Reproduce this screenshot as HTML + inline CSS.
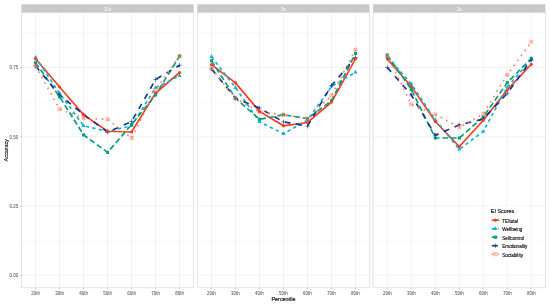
<!DOCTYPE html>
<html><head><meta charset="utf-8"><title>EI Scores accuracy by percentile</title>
<style>html,body{margin:0;padding:0;background:#fff}svg{display:block}</style></head>
<body>
<svg width="550" height="305" viewBox="0 0 550 305" font-family="Liberation Sans, Arial, sans-serif">
<rect width="550" height="305" fill="#fff"/>
<defs><filter id="soft" x="0" y="0" width="100%" height="100%" filterUnits="userSpaceOnUse"><feGaussianBlur stdDeviation="0.35"/></filter></defs>
<g filter="url(#soft)">
<rect x="21.4" y="4.3" width="172.20" height="8.30" fill="#C9C9C9"/>
<text x="107.50" y="11.0" font-size="4.6" fill="#fff" text-anchor="middle">10s</text>
<line x1="21.4" x2="193.6" y1="240.67" y2="240.67" stroke="#F1F1F1" stroke-width="0.45"/>
<line x1="21.4" x2="193.6" y1="171.40" y2="171.40" stroke="#F1F1F1" stroke-width="0.45"/>
<line x1="21.4" x2="193.6" y1="102.13" y2="102.13" stroke="#F1F1F1" stroke-width="0.45"/>
<line x1="21.4" x2="193.6" y1="32.87" y2="32.87" stroke="#F1F1F1" stroke-width="0.45"/>
<line x1="21.4" x2="193.6" y1="275.30" y2="275.30" stroke="#EAEAEA" stroke-width="0.6"/>
<line x1="21.4" x2="193.6" y1="206.03" y2="206.03" stroke="#EAEAEA" stroke-width="0.6"/>
<line x1="21.4" x2="193.6" y1="136.77" y2="136.77" stroke="#EAEAEA" stroke-width="0.6"/>
<line x1="21.4" x2="193.6" y1="67.50" y2="67.50" stroke="#EAEAEA" stroke-width="0.6"/>
<line x1="35.60" x2="35.60" y1="12.6" y2="287.8" stroke="#EAEAEA" stroke-width="0.6"/>
<line x1="59.60" x2="59.60" y1="12.6" y2="287.8" stroke="#EAEAEA" stroke-width="0.6"/>
<line x1="83.60" x2="83.60" y1="12.6" y2="287.8" stroke="#EAEAEA" stroke-width="0.6"/>
<line x1="107.60" x2="107.60" y1="12.6" y2="287.8" stroke="#EAEAEA" stroke-width="0.6"/>
<line x1="131.60" x2="131.60" y1="12.6" y2="287.8" stroke="#EAEAEA" stroke-width="0.6"/>
<line x1="155.60" x2="155.60" y1="12.6" y2="287.8" stroke="#EAEAEA" stroke-width="0.6"/>
<line x1="179.60" x2="179.60" y1="12.6" y2="287.8" stroke="#EAEAEA" stroke-width="0.6"/>
<polyline points="35.60,58.80 59.60,87.00 83.60,114.90 107.60,131.20 131.60,132.00 155.60,93.00 179.60,72.50" fill="none" stroke="#FB3B1E" stroke-width="1.65"/>
<polyline points="35.60,57.40 59.60,93.30 83.60,125.80 107.60,131.40 131.60,125.80 155.60,87.70 179.60,75.80" fill="none" stroke="#10B2D8" stroke-width="1.65" stroke-dasharray="3.4 3.2"/>
<polyline points="35.60,62.70 59.60,96.90 83.60,134.90 107.60,152.40 131.60,124.50 155.60,94.90 179.60,56.10" fill="none" stroke="#00A078" stroke-width="1.65" stroke-dasharray="5.6 3.0"/>
<polyline points="35.60,66.00 59.60,94.90 83.60,114.50 107.60,132.20 131.60,121.50 155.60,79.50 179.60,65.30" fill="none" stroke="#17358C" stroke-width="1.65" stroke-dasharray="5.8 5.8"/>
<polyline points="35.60,66.10 59.60,109.00 83.60,118.30 107.60,119.30 131.60,138.20 155.60,90.00 179.60,56.10" fill="none" stroke="#FF7F5E" stroke-width="1.65" stroke-dasharray="1.6 4.6"/>
<path d="M35.60 54.95L37.73 58.62L33.47 58.62Z" fill="#10B2D8"/>
<path d="M59.60 90.85L61.73 94.52L57.47 94.52Z" fill="#10B2D8"/>
<path d="M83.60 123.35L85.73 127.02L81.47 127.02Z" fill="#10B2D8"/>
<path d="M107.60 128.95L109.73 132.62L105.47 132.62Z" fill="#10B2D8"/>
<path d="M131.60 123.35L133.73 127.02L129.47 127.02Z" fill="#10B2D8"/>
<path d="M155.60 85.25L157.73 88.92L153.47 88.92Z" fill="#10B2D8"/>
<path d="M179.60 73.35L181.73 77.02L177.47 77.02Z" fill="#10B2D8"/>
<rect x="34.05" y="61.15" width="3.1" height="3.1" fill="#00A078"/>
<rect x="58.05" y="95.35" width="3.1" height="3.1" fill="#00A078"/>
<rect x="82.05" y="133.35" width="3.1" height="3.1" fill="#00A078"/>
<rect x="106.05" y="150.85" width="3.1" height="3.1" fill="#00A078"/>
<rect x="130.05" y="122.95" width="3.1" height="3.1" fill="#00A078"/>
<rect x="154.05" y="93.35" width="3.1" height="3.1" fill="#00A078"/>
<rect x="178.05" y="54.55" width="3.1" height="3.1" fill="#00A078"/>
<path d="M33.40 66.00H37.80M35.60 63.80V68.20" stroke="#17358C" stroke-width="0.65" fill="none"/>
<path d="M57.40 94.90H61.80M59.60 92.70V97.10" stroke="#17358C" stroke-width="0.65" fill="none"/>
<path d="M81.40 114.50H85.80M83.60 112.30V116.70" stroke="#17358C" stroke-width="0.65" fill="none"/>
<path d="M105.40 132.20H109.80M107.60 130.00V134.40" stroke="#17358C" stroke-width="0.65" fill="none"/>
<path d="M129.40 121.50H133.80M131.60 119.30V123.70" stroke="#17358C" stroke-width="0.65" fill="none"/>
<path d="M153.40 79.50H157.80M155.60 77.30V81.70" stroke="#17358C" stroke-width="0.65" fill="none"/>
<path d="M177.40 65.30H181.80M179.60 63.10V67.50" stroke="#17358C" stroke-width="0.65" fill="none"/>
<path d="M34.05 64.55h3.1v3.1h-3.1zM34.05 64.55l3.1 3.1M34.05 67.65l3.1 -3.1" stroke="#FF7F5E" stroke-width="0.5" fill="none"/>
<path d="M58.05 107.45h3.1v3.1h-3.1zM58.05 107.45l3.1 3.1M58.05 110.55l3.1 -3.1" stroke="#FF7F5E" stroke-width="0.5" fill="none"/>
<path d="M82.05 116.75h3.1v3.1h-3.1zM82.05 116.75l3.1 3.1M82.05 119.85l3.1 -3.1" stroke="#FF7F5E" stroke-width="0.5" fill="none"/>
<path d="M106.05 117.75h3.1v3.1h-3.1zM106.05 117.75l3.1 3.1M106.05 120.85l3.1 -3.1" stroke="#FF7F5E" stroke-width="0.5" fill="none"/>
<path d="M130.05 136.65h3.1v3.1h-3.1zM130.05 136.65l3.1 3.1M130.05 139.75l3.1 -3.1" stroke="#FF7F5E" stroke-width="0.5" fill="none"/>
<path d="M154.05 88.45h3.1v3.1h-3.1zM154.05 88.45l3.1 3.1M154.05 91.55l3.1 -3.1" stroke="#FF7F5E" stroke-width="0.5" fill="none"/>
<path d="M178.05 54.55h3.1v3.1h-3.1zM178.05 54.55l3.1 3.1M178.05 57.65l3.1 -3.1" stroke="#FF7F5E" stroke-width="0.5" fill="none"/>
<circle cx="35.60" cy="58.80" r="1.6" fill="#FB3B1E"/>
<circle cx="59.60" cy="87.00" r="1.6" fill="#FB3B1E"/>
<circle cx="83.60" cy="114.90" r="1.6" fill="#FB3B1E"/>
<circle cx="107.60" cy="131.20" r="1.6" fill="#FB3B1E"/>
<circle cx="131.60" cy="132.00" r="1.6" fill="#FB3B1E"/>
<circle cx="155.60" cy="93.00" r="1.6" fill="#FB3B1E"/>
<circle cx="179.60" cy="72.50" r="1.6" fill="#FB3B1E"/>
<rect x="21.4" y="12.6" width="172.20" height="275.20" fill="none" stroke="#D9D9D9" stroke-width="0.7"/>
<line x1="35.60" x2="35.60" y1="287.8" y2="289.2" stroke="#A0A0A0" stroke-width="0.6"/>
<text x="35.60" y="294.6" font-size="4.5" fill="#5c5c5c" stroke="#5c5c5c" stroke-width="0.06" text-anchor="middle">20th</text>
<line x1="59.60" x2="59.60" y1="287.8" y2="289.2" stroke="#A0A0A0" stroke-width="0.6"/>
<text x="59.60" y="294.6" font-size="4.5" fill="#5c5c5c" stroke="#5c5c5c" stroke-width="0.06" text-anchor="middle">30th</text>
<line x1="83.60" x2="83.60" y1="287.8" y2="289.2" stroke="#A0A0A0" stroke-width="0.6"/>
<text x="83.60" y="294.6" font-size="4.5" fill="#5c5c5c" stroke="#5c5c5c" stroke-width="0.06" text-anchor="middle">40th</text>
<line x1="107.60" x2="107.60" y1="287.8" y2="289.2" stroke="#A0A0A0" stroke-width="0.6"/>
<text x="107.60" y="294.6" font-size="4.5" fill="#5c5c5c" stroke="#5c5c5c" stroke-width="0.06" text-anchor="middle">50th</text>
<line x1="131.60" x2="131.60" y1="287.8" y2="289.2" stroke="#A0A0A0" stroke-width="0.6"/>
<text x="131.60" y="294.6" font-size="4.5" fill="#5c5c5c" stroke="#5c5c5c" stroke-width="0.06" text-anchor="middle">60th</text>
<line x1="155.60" x2="155.60" y1="287.8" y2="289.2" stroke="#A0A0A0" stroke-width="0.6"/>
<text x="155.60" y="294.6" font-size="4.5" fill="#5c5c5c" stroke="#5c5c5c" stroke-width="0.06" text-anchor="middle">70th</text>
<line x1="179.60" x2="179.60" y1="287.8" y2="289.2" stroke="#A0A0A0" stroke-width="0.6"/>
<text x="179.60" y="294.6" font-size="4.5" fill="#5c5c5c" stroke="#5c5c5c" stroke-width="0.06" text-anchor="middle">80th</text>
<rect x="197.3" y="4.3" width="172.20" height="8.30" fill="#C9C9C9"/>
<text x="283.40" y="11.0" font-size="4.6" fill="#fff" text-anchor="middle">5s</text>
<line x1="197.3" x2="369.5" y1="240.67" y2="240.67" stroke="#F1F1F1" stroke-width="0.45"/>
<line x1="197.3" x2="369.5" y1="171.40" y2="171.40" stroke="#F1F1F1" stroke-width="0.45"/>
<line x1="197.3" x2="369.5" y1="102.13" y2="102.13" stroke="#F1F1F1" stroke-width="0.45"/>
<line x1="197.3" x2="369.5" y1="32.87" y2="32.87" stroke="#F1F1F1" stroke-width="0.45"/>
<line x1="197.3" x2="369.5" y1="275.30" y2="275.30" stroke="#EAEAEA" stroke-width="0.6"/>
<line x1="197.3" x2="369.5" y1="206.03" y2="206.03" stroke="#EAEAEA" stroke-width="0.6"/>
<line x1="197.3" x2="369.5" y1="136.77" y2="136.77" stroke="#EAEAEA" stroke-width="0.6"/>
<line x1="197.3" x2="369.5" y1="67.50" y2="67.50" stroke="#EAEAEA" stroke-width="0.6"/>
<line x1="211.50" x2="211.50" y1="12.6" y2="287.8" stroke="#EAEAEA" stroke-width="0.6"/>
<line x1="235.50" x2="235.50" y1="12.6" y2="287.8" stroke="#EAEAEA" stroke-width="0.6"/>
<line x1="259.50" x2="259.50" y1="12.6" y2="287.8" stroke="#EAEAEA" stroke-width="0.6"/>
<line x1="283.50" x2="283.50" y1="12.6" y2="287.8" stroke="#EAEAEA" stroke-width="0.6"/>
<line x1="307.50" x2="307.50" y1="12.6" y2="287.8" stroke="#EAEAEA" stroke-width="0.6"/>
<line x1="331.50" x2="331.50" y1="12.6" y2="287.8" stroke="#EAEAEA" stroke-width="0.6"/>
<line x1="355.50" x2="355.50" y1="12.6" y2="287.8" stroke="#EAEAEA" stroke-width="0.6"/>
<polyline points="211.50,64.70 235.50,82.90 259.50,111.40 283.50,125.80 307.50,122.50 331.50,102.10 355.50,58.80" fill="none" stroke="#FB3B1E" stroke-width="1.65"/>
<polyline points="211.50,56.80 235.50,87.70 259.50,121.90 283.50,133.70 307.50,120.00 331.50,86.40 355.50,72.30" fill="none" stroke="#10B2D8" stroke-width="1.65" stroke-dasharray="3.4 3.2"/>
<polyline points="211.50,60.70 235.50,98.20 259.50,119.30 283.50,114.70 307.50,118.60 331.50,100.80 355.50,53.50" fill="none" stroke="#00A078" stroke-width="1.65" stroke-dasharray="5.6 3.0"/>
<polyline points="211.50,68.90 235.50,98.20 259.50,108.10 283.50,121.90 307.50,126.20 331.50,85.50 355.50,57.50" fill="none" stroke="#17358C" stroke-width="1.65" stroke-dasharray="5.8 5.8"/>
<polyline points="211.50,68.50 235.50,98.20 259.50,112.00 283.50,114.70 307.50,118.60 331.50,95.60 355.50,49.60" fill="none" stroke="#FF7F5E" stroke-width="1.65" stroke-dasharray="1.6 4.6"/>
<path d="M211.50 54.35L213.63 58.02L209.37 58.02Z" fill="#10B2D8"/>
<path d="M235.50 85.25L237.63 88.92L233.37 88.92Z" fill="#10B2D8"/>
<path d="M259.50 119.45L261.63 123.12L257.37 123.12Z" fill="#10B2D8"/>
<path d="M283.50 131.25L285.63 134.92L281.37 134.92Z" fill="#10B2D8"/>
<path d="M307.50 117.55L309.63 121.22L305.37 121.22Z" fill="#10B2D8"/>
<path d="M331.50 83.95L333.63 87.62L329.37 87.62Z" fill="#10B2D8"/>
<path d="M355.50 69.85L357.63 73.52L353.37 73.52Z" fill="#10B2D8"/>
<rect x="209.95" y="59.15" width="3.1" height="3.1" fill="#00A078"/>
<rect x="233.95" y="96.65" width="3.1" height="3.1" fill="#00A078"/>
<rect x="257.95" y="117.75" width="3.1" height="3.1" fill="#00A078"/>
<rect x="281.95" y="113.15" width="3.1" height="3.1" fill="#00A078"/>
<rect x="305.95" y="117.05" width="3.1" height="3.1" fill="#00A078"/>
<rect x="329.95" y="99.25" width="3.1" height="3.1" fill="#00A078"/>
<rect x="353.95" y="51.95" width="3.1" height="3.1" fill="#00A078"/>
<path d="M209.30 68.90H213.70M211.50 66.70V71.10" stroke="#17358C" stroke-width="0.65" fill="none"/>
<path d="M233.30 98.20H237.70M235.50 96.00V100.40" stroke="#17358C" stroke-width="0.65" fill="none"/>
<path d="M257.30 108.10H261.70M259.50 105.90V110.30" stroke="#17358C" stroke-width="0.65" fill="none"/>
<path d="M281.30 121.90H285.70M283.50 119.70V124.10" stroke="#17358C" stroke-width="0.65" fill="none"/>
<path d="M305.30 126.20H309.70M307.50 124.00V128.40" stroke="#17358C" stroke-width="0.65" fill="none"/>
<path d="M329.30 85.50H333.70M331.50 83.30V87.70" stroke="#17358C" stroke-width="0.65" fill="none"/>
<path d="M353.30 57.50H357.70M355.50 55.30V59.70" stroke="#17358C" stroke-width="0.65" fill="none"/>
<path d="M209.95 66.95h3.1v3.1h-3.1zM209.95 66.95l3.1 3.1M209.95 70.05l3.1 -3.1" stroke="#FF7F5E" stroke-width="0.5" fill="none"/>
<path d="M233.95 96.65h3.1v3.1h-3.1zM233.95 96.65l3.1 3.1M233.95 99.75l3.1 -3.1" stroke="#FF7F5E" stroke-width="0.5" fill="none"/>
<path d="M257.95 110.45h3.1v3.1h-3.1zM257.95 110.45l3.1 3.1M257.95 113.55l3.1 -3.1" stroke="#FF7F5E" stroke-width="0.5" fill="none"/>
<path d="M281.95 113.15h3.1v3.1h-3.1zM281.95 113.15l3.1 3.1M281.95 116.25l3.1 -3.1" stroke="#FF7F5E" stroke-width="0.5" fill="none"/>
<path d="M305.95 117.05h3.1v3.1h-3.1zM305.95 117.05l3.1 3.1M305.95 120.15l3.1 -3.1" stroke="#FF7F5E" stroke-width="0.5" fill="none"/>
<path d="M329.95 94.05h3.1v3.1h-3.1zM329.95 94.05l3.1 3.1M329.95 97.15l3.1 -3.1" stroke="#FF7F5E" stroke-width="0.5" fill="none"/>
<path d="M353.95 48.05h3.1v3.1h-3.1zM353.95 48.05l3.1 3.1M353.95 51.15l3.1 -3.1" stroke="#FF7F5E" stroke-width="0.5" fill="none"/>
<circle cx="211.50" cy="64.70" r="1.6" fill="#FB3B1E"/>
<circle cx="235.50" cy="82.90" r="1.6" fill="#FB3B1E"/>
<circle cx="259.50" cy="111.40" r="1.6" fill="#FB3B1E"/>
<circle cx="283.50" cy="125.80" r="1.6" fill="#FB3B1E"/>
<circle cx="307.50" cy="122.50" r="1.6" fill="#FB3B1E"/>
<circle cx="331.50" cy="102.10" r="1.6" fill="#FB3B1E"/>
<circle cx="355.50" cy="58.80" r="1.6" fill="#FB3B1E"/>
<rect x="197.3" y="12.6" width="172.20" height="275.20" fill="none" stroke="#D9D9D9" stroke-width="0.7"/>
<line x1="211.50" x2="211.50" y1="287.8" y2="289.2" stroke="#A0A0A0" stroke-width="0.6"/>
<text x="211.50" y="294.6" font-size="4.5" fill="#5c5c5c" stroke="#5c5c5c" stroke-width="0.06" text-anchor="middle">20th</text>
<line x1="235.50" x2="235.50" y1="287.8" y2="289.2" stroke="#A0A0A0" stroke-width="0.6"/>
<text x="235.50" y="294.6" font-size="4.5" fill="#5c5c5c" stroke="#5c5c5c" stroke-width="0.06" text-anchor="middle">30th</text>
<line x1="259.50" x2="259.50" y1="287.8" y2="289.2" stroke="#A0A0A0" stroke-width="0.6"/>
<text x="259.50" y="294.6" font-size="4.5" fill="#5c5c5c" stroke="#5c5c5c" stroke-width="0.06" text-anchor="middle">40th</text>
<line x1="283.50" x2="283.50" y1="287.8" y2="289.2" stroke="#A0A0A0" stroke-width="0.6"/>
<text x="283.50" y="294.6" font-size="4.5" fill="#5c5c5c" stroke="#5c5c5c" stroke-width="0.06" text-anchor="middle">50th</text>
<line x1="307.50" x2="307.50" y1="287.8" y2="289.2" stroke="#A0A0A0" stroke-width="0.6"/>
<text x="307.50" y="294.6" font-size="4.5" fill="#5c5c5c" stroke="#5c5c5c" stroke-width="0.06" text-anchor="middle">60th</text>
<line x1="331.50" x2="331.50" y1="287.8" y2="289.2" stroke="#A0A0A0" stroke-width="0.6"/>
<text x="331.50" y="294.6" font-size="4.5" fill="#5c5c5c" stroke="#5c5c5c" stroke-width="0.06" text-anchor="middle">70th</text>
<line x1="355.50" x2="355.50" y1="287.8" y2="289.2" stroke="#A0A0A0" stroke-width="0.6"/>
<text x="355.50" y="294.6" font-size="4.5" fill="#5c5c5c" stroke="#5c5c5c" stroke-width="0.06" text-anchor="middle">80th</text>
<rect x="373.1" y="4.3" width="172.30" height="8.30" fill="#C9C9C9"/>
<text x="459.25" y="11.0" font-size="4.6" fill="#fff" text-anchor="middle">2s</text>
<line x1="373.1" x2="545.4" y1="240.67" y2="240.67" stroke="#F1F1F1" stroke-width="0.45"/>
<line x1="373.1" x2="545.4" y1="171.40" y2="171.40" stroke="#F1F1F1" stroke-width="0.45"/>
<line x1="373.1" x2="545.4" y1="102.13" y2="102.13" stroke="#F1F1F1" stroke-width="0.45"/>
<line x1="373.1" x2="545.4" y1="32.87" y2="32.87" stroke="#F1F1F1" stroke-width="0.45"/>
<line x1="373.1" x2="545.4" y1="275.30" y2="275.30" stroke="#EAEAEA" stroke-width="0.6"/>
<line x1="373.1" x2="545.4" y1="206.03" y2="206.03" stroke="#EAEAEA" stroke-width="0.6"/>
<line x1="373.1" x2="545.4" y1="136.77" y2="136.77" stroke="#EAEAEA" stroke-width="0.6"/>
<line x1="373.1" x2="545.4" y1="67.50" y2="67.50" stroke="#EAEAEA" stroke-width="0.6"/>
<line x1="387.30" x2="387.30" y1="12.6" y2="287.8" stroke="#EAEAEA" stroke-width="0.6"/>
<line x1="411.30" x2="411.30" y1="12.6" y2="287.8" stroke="#EAEAEA" stroke-width="0.6"/>
<line x1="435.30" x2="435.30" y1="12.6" y2="287.8" stroke="#EAEAEA" stroke-width="0.6"/>
<line x1="459.30" x2="459.30" y1="12.6" y2="287.8" stroke="#EAEAEA" stroke-width="0.6"/>
<line x1="483.30" x2="483.30" y1="12.6" y2="287.8" stroke="#EAEAEA" stroke-width="0.6"/>
<line x1="507.30" x2="507.30" y1="12.6" y2="287.8" stroke="#EAEAEA" stroke-width="0.6"/>
<line x1="531.30" x2="531.30" y1="12.6" y2="287.8" stroke="#EAEAEA" stroke-width="0.6"/>
<polyline points="387.30,59.00 411.30,86.40 435.30,121.50 459.30,146.50 483.30,120.20 507.30,89.90 531.30,64.30" fill="none" stroke="#FB3B1E" stroke-width="1.65"/>
<polyline points="387.30,56.70 411.30,83.90 435.30,119.80 459.30,149.40 483.30,131.40 507.30,87.10 531.30,59.60" fill="none" stroke="#10B2D8" stroke-width="1.65" stroke-dasharray="3.4 3.2"/>
<polyline points="387.30,55.10 411.30,89.40 435.30,138.00 459.30,138.00 483.30,117.00 507.30,82.60 531.30,58.30" fill="none" stroke="#00A078" stroke-width="1.65" stroke-dasharray="5.6 3.0"/>
<polyline points="387.30,67.50 411.30,94.90 435.30,135.30 459.30,124.90 483.30,119.00 507.30,93.30 531.30,60.00" fill="none" stroke="#17358C" stroke-width="1.65" stroke-dasharray="5.8 5.8"/>
<polyline points="387.30,55.10 411.30,104.30 435.30,114.40 459.30,127.20 483.30,113.90 507.30,74.70 531.30,41.80" fill="none" stroke="#FF7F5E" stroke-width="1.65" stroke-dasharray="1.6 4.6"/>
<path d="M387.30 54.25L389.43 57.93L385.17 57.93Z" fill="#10B2D8"/>
<path d="M411.30 81.45L413.43 85.12L409.17 85.12Z" fill="#10B2D8"/>
<path d="M435.30 117.35L437.43 121.02L433.17 121.02Z" fill="#10B2D8"/>
<path d="M459.30 146.95L461.43 150.62L457.17 150.62Z" fill="#10B2D8"/>
<path d="M483.30 128.95L485.43 132.62L481.17 132.62Z" fill="#10B2D8"/>
<path d="M507.30 84.65L509.43 88.32L505.17 88.32Z" fill="#10B2D8"/>
<path d="M531.30 57.15L533.43 60.83L529.17 60.83Z" fill="#10B2D8"/>
<rect x="385.75" y="53.55" width="3.1" height="3.1" fill="#00A078"/>
<rect x="409.75" y="87.85" width="3.1" height="3.1" fill="#00A078"/>
<rect x="433.75" y="136.45" width="3.1" height="3.1" fill="#00A078"/>
<rect x="457.75" y="136.45" width="3.1" height="3.1" fill="#00A078"/>
<rect x="481.75" y="115.45" width="3.1" height="3.1" fill="#00A078"/>
<rect x="505.75" y="81.05" width="3.1" height="3.1" fill="#00A078"/>
<rect x="529.75" y="56.75" width="3.1" height="3.1" fill="#00A078"/>
<path d="M385.10 67.50H389.50M387.30 65.30V69.70" stroke="#17358C" stroke-width="0.65" fill="none"/>
<path d="M409.10 94.90H413.50M411.30 92.70V97.10" stroke="#17358C" stroke-width="0.65" fill="none"/>
<path d="M433.10 135.30H437.50M435.30 133.10V137.50" stroke="#17358C" stroke-width="0.65" fill="none"/>
<path d="M457.10 124.90H461.50M459.30 122.70V127.10" stroke="#17358C" stroke-width="0.65" fill="none"/>
<path d="M481.10 119.00H485.50M483.30 116.80V121.20" stroke="#17358C" stroke-width="0.65" fill="none"/>
<path d="M505.10 93.30H509.50M507.30 91.10V95.50" stroke="#17358C" stroke-width="0.65" fill="none"/>
<path d="M529.10 60.00H533.50M531.30 57.80V62.20" stroke="#17358C" stroke-width="0.65" fill="none"/>
<path d="M385.75 53.55h3.1v3.1h-3.1zM385.75 53.55l3.1 3.1M385.75 56.65l3.1 -3.1" stroke="#FF7F5E" stroke-width="0.5" fill="none"/>
<path d="M409.75 102.75h3.1v3.1h-3.1zM409.75 102.75l3.1 3.1M409.75 105.85l3.1 -3.1" stroke="#FF7F5E" stroke-width="0.5" fill="none"/>
<path d="M433.75 112.85h3.1v3.1h-3.1zM433.75 112.85l3.1 3.1M433.75 115.95l3.1 -3.1" stroke="#FF7F5E" stroke-width="0.5" fill="none"/>
<path d="M457.75 125.65h3.1v3.1h-3.1zM457.75 125.65l3.1 3.1M457.75 128.75l3.1 -3.1" stroke="#FF7F5E" stroke-width="0.5" fill="none"/>
<path d="M481.75 112.35h3.1v3.1h-3.1zM481.75 112.35l3.1 3.1M481.75 115.45l3.1 -3.1" stroke="#FF7F5E" stroke-width="0.5" fill="none"/>
<path d="M505.75 73.15h3.1v3.1h-3.1zM505.75 73.15l3.1 3.1M505.75 76.25l3.1 -3.1" stroke="#FF7F5E" stroke-width="0.5" fill="none"/>
<path d="M529.75 40.25h3.1v3.1h-3.1zM529.75 40.25l3.1 3.1M529.75 43.35l3.1 -3.1" stroke="#FF7F5E" stroke-width="0.5" fill="none"/>
<circle cx="387.30" cy="59.00" r="1.6" fill="#FB3B1E"/>
<circle cx="411.30" cy="86.40" r="1.6" fill="#FB3B1E"/>
<circle cx="435.30" cy="121.50" r="1.6" fill="#FB3B1E"/>
<circle cx="459.30" cy="146.50" r="1.6" fill="#FB3B1E"/>
<circle cx="483.30" cy="120.20" r="1.6" fill="#FB3B1E"/>
<circle cx="507.30" cy="89.90" r="1.6" fill="#FB3B1E"/>
<circle cx="531.30" cy="64.30" r="1.6" fill="#FB3B1E"/>
<rect x="488.0" y="206.0" width="42.30" height="56.00" fill="#fff"/>
<text x="490.8" y="212.6" font-size="5.4" fill="#111" stroke="#111" stroke-width="0.16">EI Scores</text>
<line x1="491.8" x2="499.0" y1="220.2" y2="220.2" stroke="#FB3B1E" stroke-width="1.65"/>
<circle cx="495.40" cy="220.20" r="1.6" fill="#FB3B1E"/>
<text x="502.3" y="222.50" font-size="4.6" fill="#111" stroke="#111" stroke-width="0.14">TEItotal</text>
<line x1="491.8" x2="499.0" y1="228.7" y2="228.7" stroke="#10B2D8" stroke-width="1.65" stroke-dasharray="3.4 3.2"/>
<path d="M495.40 226.25L497.53 229.92L493.27 229.92Z" fill="#10B2D8"/>
<text x="502.3" y="231.00" font-size="4.6" fill="#111" stroke="#111" stroke-width="0.14">Wellbeing</text>
<line x1="491.8" x2="499.0" y1="237.2" y2="237.2" stroke="#00A078" stroke-width="1.65" stroke-dasharray="5.6 3.0"/>
<rect x="493.85" y="235.65" width="3.1" height="3.1" fill="#00A078"/>
<text x="502.3" y="239.50" font-size="4.6" fill="#111" stroke="#111" stroke-width="0.14">Selfcontrol</text>
<line x1="491.8" x2="499.0" y1="245.7" y2="245.7" stroke="#17358C" stroke-width="1.65" stroke-dasharray="5.8 5.8"/>
<path d="M493.20 245.70H497.60M495.40 243.50V247.90" stroke="#17358C" stroke-width="0.65" fill="none"/>
<text x="502.3" y="248.00" font-size="4.6" fill="#111" stroke="#111" stroke-width="0.14">Emotionality</text>
<line x1="491.8" x2="499.0" y1="254.2" y2="254.2" stroke="#FF7F5E" stroke-width="1.65" stroke-dasharray="1.6 4.6"/>
<path d="M493.85 252.65h3.1v3.1h-3.1zM493.85 252.65l3.1 3.1M493.85 255.75l3.1 -3.1" stroke="#FF7F5E" stroke-width="0.5" fill="none"/>
<text x="502.3" y="256.50" font-size="4.6" fill="#111" stroke="#111" stroke-width="0.14">Sociability</text>
<rect x="373.1" y="12.6" width="172.30" height="275.20" fill="none" stroke="#D9D9D9" stroke-width="0.7"/>
<line x1="387.30" x2="387.30" y1="287.8" y2="289.2" stroke="#A0A0A0" stroke-width="0.6"/>
<text x="387.30" y="294.6" font-size="4.5" fill="#5c5c5c" stroke="#5c5c5c" stroke-width="0.06" text-anchor="middle">20th</text>
<line x1="411.30" x2="411.30" y1="287.8" y2="289.2" stroke="#A0A0A0" stroke-width="0.6"/>
<text x="411.30" y="294.6" font-size="4.5" fill="#5c5c5c" stroke="#5c5c5c" stroke-width="0.06" text-anchor="middle">30th</text>
<line x1="435.30" x2="435.30" y1="287.8" y2="289.2" stroke="#A0A0A0" stroke-width="0.6"/>
<text x="435.30" y="294.6" font-size="4.5" fill="#5c5c5c" stroke="#5c5c5c" stroke-width="0.06" text-anchor="middle">40th</text>
<line x1="459.30" x2="459.30" y1="287.8" y2="289.2" stroke="#A0A0A0" stroke-width="0.6"/>
<text x="459.30" y="294.6" font-size="4.5" fill="#5c5c5c" stroke="#5c5c5c" stroke-width="0.06" text-anchor="middle">50th</text>
<line x1="483.30" x2="483.30" y1="287.8" y2="289.2" stroke="#A0A0A0" stroke-width="0.6"/>
<text x="483.30" y="294.6" font-size="4.5" fill="#5c5c5c" stroke="#5c5c5c" stroke-width="0.06" text-anchor="middle">60th</text>
<line x1="507.30" x2="507.30" y1="287.8" y2="289.2" stroke="#A0A0A0" stroke-width="0.6"/>
<text x="507.30" y="294.6" font-size="4.5" fill="#5c5c5c" stroke="#5c5c5c" stroke-width="0.06" text-anchor="middle">70th</text>
<line x1="531.30" x2="531.30" y1="287.8" y2="289.2" stroke="#A0A0A0" stroke-width="0.6"/>
<text x="531.30" y="294.6" font-size="4.5" fill="#5c5c5c" stroke="#5c5c5c" stroke-width="0.06" text-anchor="middle">80th</text>
<line x1="20.0" x2="21.4" y1="275.30" y2="275.30" stroke="#A0A0A0" stroke-width="0.6"/>
<text x="18.2" y="277.15" font-size="4.5" fill="#5c5c5c" stroke="#5c5c5c" stroke-width="0.06" text-anchor="end">0.00</text>
<line x1="20.0" x2="21.4" y1="206.03" y2="206.03" stroke="#A0A0A0" stroke-width="0.6"/>
<text x="18.2" y="207.88" font-size="4.5" fill="#5c5c5c" stroke="#5c5c5c" stroke-width="0.06" text-anchor="end">0.25</text>
<line x1="20.0" x2="21.4" y1="136.77" y2="136.77" stroke="#A0A0A0" stroke-width="0.6"/>
<text x="18.2" y="138.62" font-size="4.5" fill="#5c5c5c" stroke="#5c5c5c" stroke-width="0.06" text-anchor="end">0.50</text>
<line x1="20.0" x2="21.4" y1="67.50" y2="67.50" stroke="#A0A0A0" stroke-width="0.6"/>
<text x="18.2" y="69.35" font-size="4.5" fill="#5c5c5c" stroke="#5c5c5c" stroke-width="0.06" text-anchor="end">0.75</text>
<text x="283.5" y="300.6" font-size="5.4" fill="#111" stroke="#111" stroke-width="0.16" text-anchor="middle">Percentile</text>
<text transform="translate(8.2 150.3) rotate(-90)" font-size="5.4" fill="#111" stroke="#111" stroke-width="0.16" text-anchor="middle">Accuracy</text>
</g>
</svg>
</body></html>
